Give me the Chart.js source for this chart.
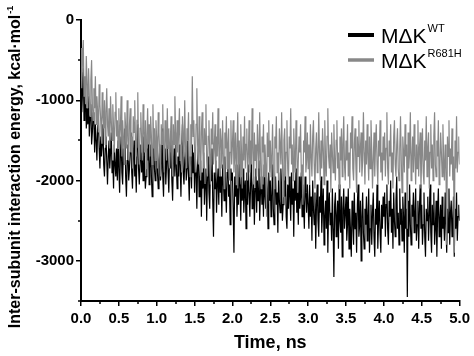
<!DOCTYPE html>
<html>
<head>
<meta charset="utf-8">
<script src="https://cdn.jsdelivr.net/npm/chart.js@4/dist/chart.umd.min.js"></script>
<style>
html,body{margin:0;padding:0;background:#fff;}
#wrap{width:474px;height:356px;position:relative;}
</style>
</head>
<body>
<div id="wrap"><canvas id="c" width="474" height="356"></canvas></div>
<script>
// ---- data ----
const T_START = 0;      // ns
const T_STEP = 0.01;    // ns between samples
const seriesNames = ["MΔK", "MΔK"];
const seriesSup = ["WT", "R681H"];
const yTitleMain = "Inter-subunit interaction energy, kcal·mol";
const yTitleSup = "-1";
const xTitle = "Time, ns";
const xMajorTicks = [0, 0.5, 1, 1.5, 2, 2.5, 3, 3.5, 4, 4.5, 5];
const xMinorTicks = [0.25, 0.75, 1.25, 1.75, 2.25, 2.75, 3.25, 3.75, 4.25, 4.75];
const yMajorTicks = [0, -1000, -2000, -3000];
const yMinorTicks = [-500, -1500, -2500, -3500];

const wtEnergy = [
 -650,-1150,-900,-600,-1250,-1000,-800,-1350,-1100,-1300,
 -950,-1450,-1200,-1050,-1550,-1400,-1150,-1250,-1650,-1300,
 -1500,-1750,-1350,-1200,-1600,-1850,-1450,-1700,-1550,-1300,
 -1800,-1950,-1600,-1450,-1750,-2050,-1700,-1500,-1850,-1650,
 -1400,-1900,-1750,-2100,-1550,-1800,-1950,-1600,-2000,-1500,
 -1850,-2150,-1700,-1450,-1900,-2050,-1600,-1800,-1350,-1950,
 -2200,-1750,-1550,-2000,-1850,-1650,-1400,-1900,-2100,-1700,
 -1500,-1950,-1800,-2150,-1600,-1300,-1850,-2050,-1750,-1550,
 -1900,-1650,-2000,-1450,-1800,-2100,-1950,-1600,-1750,-1400,
 -2050,-1850,-1550,-1950,-2200,-1700,-1500,-1850,-2000,-1650,
 -1450,-1900,-2100,-1750,-1550,-2000,-1850,-1350,-1950,-2200,
 -1700,-1600,-2050,-1800,-1450,-1900,-2150,-1650,-1850,-1500,
 -2000,-2250,-1750,-1600,-1950,-1400,-1850,-2100,-1700,-1950,
 -1550,-1800,-2200,-1650,-1300,-1900,-2050,-1750,-1600,-2000,
 -1850,-1500,-1950,-2250,-1700,-1800,-2100,-1550,-1900,-1650,
 -2150,-1700,-1900,-2350,-1800,-1600,-2200,-2000,-1750,-2450,
 -1900,-2100,-1650,-2300,-2050,-1850,-2500,-1950,-1700,-2150,
 -2350,-1800,-2000,-1600,-2250,-2700,-1900,-2100,-1750,-2400,
 -2050,-1850,-2300,-1650,-2150,-1950,-2450,-1800,-2000,-2250,
 -1700,-2100,-2400,-1900,-1750,-2200,-2050,-2550,-1850,-2000,
 -1900,-2350,-2900,-1950,-2200,-1800,-2450,-2100,-2300,-1750,
 -2050,-2500,-1950,-2250,-1850,-2400,-2150,-2000,-2600,-1900,
 -2300,-1800,-2150,-2450,-2050,-1700,-2350,-2200,-1950,-2550,
 -2100,-1850,-2400,-2000,-2250,-1750,-2500,-2150,-1950,-2300,
 -2050,-2450,-1800,-2200,-2350,-1950,-2100,-2600,-1900,-2250,
 -2000,-2450,-2200,-1800,-2350,-2550,-2050,-1950,-2300,-2150,
 -2650,-1900,-2250,-2400,-1850,-2100,-2500,-2300,-2000,-2200,
 -1800,-2450,-2600,-2050,-2350,-1950,-2200,-2500,-1900,-2300,
 -2100,-2700,-2000,-2250,-1850,-2400,-2150,-2550,-1950,-2350,
 -2200,-1900,-2450,-2050,-2300,-2600,-1950,-2150,-2400,-2050,
 -2300,-2600,-2050,-2450,-2200,-2750,-2000,-2350,-2550,-2150,
 -2850,-2300,-2050,-2500,-2700,-2200,-2400,-1950,-2650,-2350,
 -2100,-2800,-2450,-2250,-2600,-2000,-2900,-2350,-2150,-2550,
 -2400,-2750,-2100,-2600,-3200,-2300,-2150,-2700,-2450,-2250,
 -2850,-2050,-2500,-2650,-2200,-2950,-2350,-2100,-2600,-2400,
 -2200,-2750,-2550,-2100,-2850,-2350,-2650,-2950,-2250,-2500,
 -2800,-2150,-2600,-2400,-2900,-2300,-2050,-2700,-2550,-2250,
 -3000,-2450,-2150,-2650,-2850,-2350,-2550,-2200,-2750,-2450,
 -2100,-2900,-2600,-2300,-2800,-2400,-2150,-2700,-2950,-2350,
 -2550,-2050,-2850,-2500,-2250,-2650,-2900,-2300,-2600,-2200,
 -2450,-2150,-2700,-2300,-2050,-2600,-2800,-2250,-2450,-2000,
 -2650,-2350,-2850,-2150,-2500,-2700,-2250,-1950,-2600,-2400,
 -2800,-2100,-2550,-2350,-2750,-2200,-2450,-2900,-2150,-2600,
 -2350,-3450,-2250,-2700,-2050,-2550,-2800,-2300,-2450,-2150,
 -2650,-2400,-2100,-2750,-2550,-2250,-2850,-2350,-2050,-2600,
 -2300,-2800,-2550,-2150,-2700,-2950,-2350,-2500,-2200,-2750,
 -2450,-2050,-2650,-2900,-2300,-2550,-2150,-2800,-2600,-2250,
 -2950,-2400,-2100,-2700,-2500,-2300,-2850,-2200,-2600,-2450,
 -2750,-2150,-2550,-2900,-2350,-2650,-2100,-2800,-2400,-2250,
 -2700,-2500,-2200,-2950,-2350,-2600,-2150,-2750,-2450,-2300,
 -2500
];

const mutEnergy = [
 -350,-850,-500,-250,-950,-700,-1050,-450,-800,-1100,
 -600,-950,-1200,-750,-500,-1050,-1250,-850,-1100,-700,
 -1300,-950,-1150,-1400,-800,-1050,-1250,-1500,-900,-1200,
 -1350,-1000,-1550,-1150,-850,-1300,-1450,-1100,-1600,-950,
 -1250,-1500,-1050,-1350,-1650,-1150,-900,-1450,-1250,-1600,
 -1100,-1550,-1350,-950,-1700,-1250,-1450,-1800,-1150,-1350,
 -1600,-1000,-1500,-1750,-1300,-1100,-1650,-1450,-1850,-1200,
 -1400,-1000,-1550,-1700,-1250,-900,-1600,-1800,-1350,-1150,
 -1500,-1750,-1050,-1400,-1650,-1250,-1850,-1450,-1100,-1550,
 -1300,-1700,-1200,-1450,-1800,-1050,-1600,-1350,-1750,-1250,
 -1500,-1850,-1150,-1400,-1700,-1950,-1300,-1550,-1050,-1650,
 -1900,-1250,-1450,-1750,-1100,-1600,-1350,-1850,-1500,-1200,
 -1700,-1950,-1300,-1550,-950,-1450,-1800,-1250,-1650,-1400,
 -1100,-1750,-1550,-1900,-1200,-1450,-1700,-1000,-1600,-1850,
 -1350,-1500,-1150,-1750,-1950,-1300,-1600,-700,-1450,-1250,
 -1650,-1900,-1300,-850,-1550,-1800,-1200,-1700,-2000,-1400,
 -1150,-1650,-1850,-1350,-1550,-1050,-1750,-1950,-1450,-1250,
 -1700,-2050,-1350,-1550,-1150,-1800,-1600,-1300,-1900,-1450,
 -1700,-1100,-1600,-1950,-1350,-1500,-1850,-1250,-1700,-2100,
 -1400,-1600,-1200,-1850,-1550,-1350,-2000,-1650,-1250,-1800,
 -1550,-1250,-1900,-1700,-1400,-2050,-1600,-1150,-1800,-1500,
 -1950,-1300,-1650,-2100,-1450,-1750,-1200,-1850,-1550,-1350,
 -2000,-1700,-1250,-1900,-1500,-1800,-1100,-1650,-2050,-1400,
 -1750,-1550,-1950,-1300,-1600,-1850,-1150,-1700,-2100,-1450,
 -1650,-1300,-1950,-1550,-1800,-2450,-1400,-1700,-1250,-1900,
 -1500,-1950,-1700,-1300,-1850,-2100,-1450,-1600,-1200,-1900,
 -1650,-2000,-1350,-1550,-1800,-1150,-1750,-2200,-1500,-1350,
 -1950,-1650,-1250,-1850,-2050,-1450,-1600,-1100,-1800,-1550,
 -2000,-1350,-1700,-1900,-1250,-1550,-2150,-1750,-1450,-1650,
 -1300,-1950,-1800,-2300,-1500,-1650,-1200,-1900,-1750,-1400,
 -1850,-1550,-2050,-1300,-1700,-1950,-1450,-1250,-1800,-2100,
 -1600,-1400,-1900,-1750,-1150,-1650,-2000,-1500,-1850,-1350,
 -1600,-2050,-1250,-1750,-1950,-1450,-1100,-1700,-1850,-1550,
 -2150,-1400,-1650,-1900,-1300,-1750,-2000,-1500,-1250,-1850,
 -1650,-2100,-1450,-1750,-1350,-1950,-1550,-1200,-1800,-2000,
 -1500,-1750,-1300,-1950,-1650,-2100,-1400,-1600,-1200,-1850,
 -2000,-1550,-1350,-1800,-2150,-1450,-1700,-1250,-1900,-1600,
 -1400,-1950,-1750,-1150,-1650,-2050,-1500,-1800,-1300,-1700,
 -2000,-1450,-1850,-1250,-1600,-2100,-1750,-1400,-1950,-1550,
 -1300,-1800,-2050,-1500,-1700,-1250,-1900,-1650,-2000,-1450,
 -1750,-1400,-1950,-1600,-1150,-1850,-2050,-1500,-1700,-1300,
 -1900,-1650,-2100,-1450,-1250,-1800,-1950,-1550,-1350,-1850,
 -2000,-1600,-1200,-1750,-2150,-1450,-1650,-1900,-1300,-1700,
 -1550,-2600,-1400,-1850,-1650,-1150,-2000,-1750,-1450,-1900,
 -1300,-1700,-2050,-1550,-1850,-1250,-1950,-1600,-1400,-2100,
 -1700,-1350,-1900,-2050,-1500,-1750,-1200,-1950,-1600,-1400,
 -2100,-1650,-1300,-1850,-1550,-2000,-1450,-1150,-1800,-1950,
 -1500,-1700,-1250,-2050,-1850,-1400,-1650,-1950,-1300,-1750,
 -2000,-1550,-1850,-2800,-1450,-1700,-1250,-1950,-1600,-1800,
 -1350,-2000,-1700,-2900,-1500,-1850,-1200,-1900,-1650,-1450,
 -1800
];

const colors = ["#000000", "#888888"];

// ---- build point tables ----
function toPoints(arr){ return arr.map((v,i)=>({x: T_START + i*T_STEP, y: v})); }

const FONT = "'Liberation Sans', Arial, sans-serif";

const minorTicksPlugin = {
  id: 'minorTicks',
  afterDraw(chart){
    const ctx = chart.ctx;
    const xs = chart.scales.x, ys = chart.scales.y;
    ctx.save();
    ctx.strokeStyle = '#000';
    ctx.lineWidth = 1.5;
    ctx.beginPath();
    xMinorTicks.forEach(v=>{
      const px = Math.round(xs.getPixelForValue(v));
      ctx.moveTo(px, xs.top); ctx.lineTo(px, xs.top + 3);
    });
    yMinorTicks.forEach(v=>{
      const py = Math.round(ys.getPixelForValue(v));
      ctx.moveTo(ys.right, py); ctx.lineTo(ys.right - 3, py);
    });
    ctx.stroke();
    ctx.restore();
  }
};

const textPlugin = {
  id: 'customText',
  afterDraw(chart){
    const ctx = chart.ctx;
    ctx.save();
    // legend
    const rows = [{y:35, lw:4}, {y:60, lw:3.5}];
    rows.forEach((r,i)=>{
      ctx.strokeStyle = colors[i];
      ctx.lineWidth = r.lw;
      ctx.beginPath();
      ctx.moveTo(348, r.y); ctx.lineTo(374, r.y);
      ctx.stroke();
      ctx.fillStyle = '#000';
      ctx.textBaseline = 'alphabetic';
      ctx.textAlign = 'left';
      ctx.font = "21px " + FONT;
      ctx.fillText(seriesNames[i], 381, r.y + 8);
      const w = ctx.measureText(seriesNames[i]).width;
      ctx.font = "11px " + FONT;
      ctx.fillText(seriesSup[i], 381 + w + 1, r.y - 3);
    });
    // y-axis title
    ctx.translate(20, 167);
    ctx.rotate(-Math.PI/2);
    ctx.fillStyle = '#000';
    ctx.textAlign = 'left';
    ctx.textBaseline = 'alphabetic';
    ctx.font = "bold 16px " + FONT;
    const wm = ctx.measureText(yTitleMain).width;
    ctx.font = "bold 9px " + FONT;
    const ws = ctx.measureText(yTitleSup).width;
    const x0 = -(wm + ws + 1)/2;
    ctx.font = "bold 16px " + FONT;
    ctx.fillText(yTitleMain, x0, 0);
    ctx.font = "bold 9px " + FONT;
    ctx.fillText(yTitleSup, x0 + wm + 1, -7);
    ctx.restore();
  }
};

new Chart(document.getElementById('c'), {
  type: 'line',
  data: {
    datasets: [
      { label: 'WT', data: toPoints(wtEnergy), borderColor: colors[0], borderWidth: 1.2, pointRadius: 0, tension: 0, order: 2 },
      { label: 'R681H', data: toPoints(mutEnergy), borderColor: colors[1], borderWidth: 1.2, pointRadius: 0, tension: 0, order: 1 }
    ]
  },
  options: {
    responsive: false,
    animation: false,
    events: [],
    layout: { padding: { top: 20, right: 13, left: 0, bottom: 0 } },
    plugins: { legend: { display: false }, tooltip: { enabled: false } },
    scales: {
      x: {
        type: 'linear', min: 0, max: 5,
        afterBuildTicks(s){ s.ticks = xMajorTicks.map(v=>({value:v})); },
        afterFit(s){ s.height = 55; },
        border: { display: true, color: '#000', width: 2 },
        grid: { display: true, drawOnChartArea: false, drawTicks: true, tickLength: 5, color: '#000', lineWidth: 1.5 },
        ticks: { color: '#000', font: { family: FONT, size: 15, weight: 'bold' }, padding: 4, maxRotation: 0,
                 callback: v => Number(v).toFixed(1) },
        title: { display: true, text: xTitle, color: '#000', font: { family: FONT, size: 18, weight: 'bold' }, padding: { top: 0, bottom: 2 } }
      },
      y: {
        type: 'linear', min: -3500, max: 0,
        afterBuildTicks(s){ s.ticks = yMajorTicks.map(v=>({value:v})); },
        afterFit(s){ s.width = 81; },
        border: { display: true, color: '#000', width: 2 },
        grid: { display: true, drawOnChartArea: false, drawTicks: true, tickLength: 5, color: '#000', lineWidth: 1.5 },
        ticks: { color: '#000', font: { family: FONT, size: 15, weight: 'bold' }, padding: 2,
                 callback: v => String(v) }
      }
    }
  },
  plugins: [minorTicksPlugin, textPlugin]
});
</script>
</body>
</html>
